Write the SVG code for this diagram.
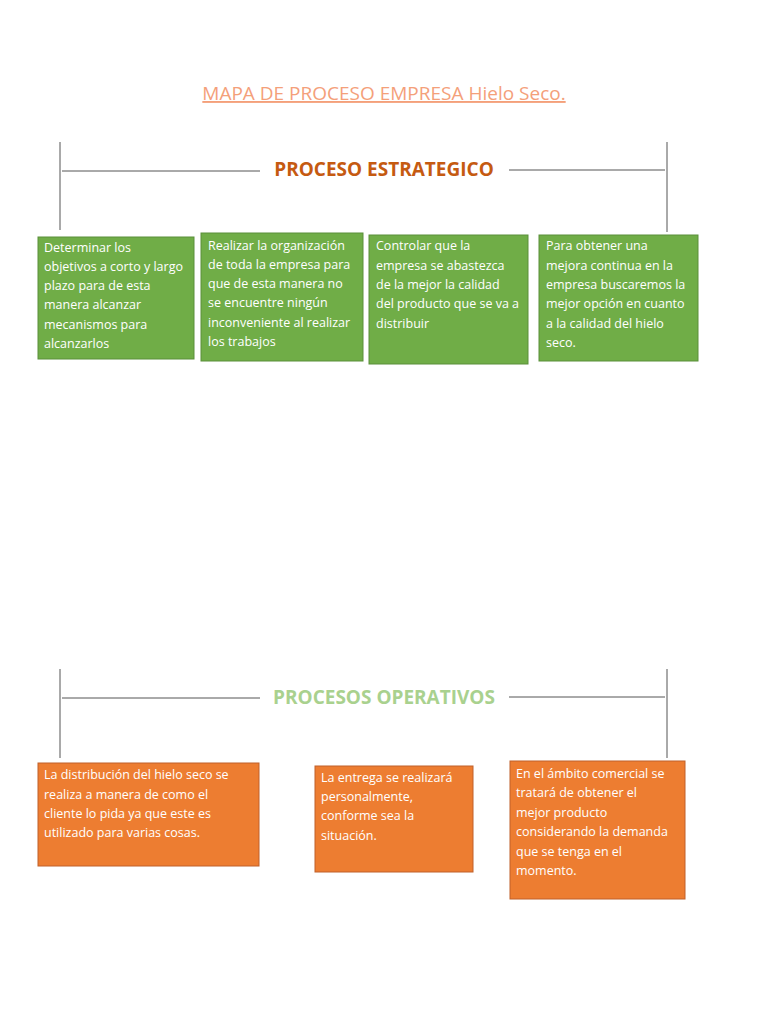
<svg xmlns="http://www.w3.org/2000/svg" width="768" height="1024" viewBox="0 0 768 1024">
<style>
.t{font-family:"Open Sans","Noto Sans",sans-serif;font-size:12.5px;fill:#fff}
.g{fill:#70ad47;stroke:#5a8f3a;stroke-width:1}
.o{fill:#ed7d31;stroke:#c0602a;stroke-width:1}
.l{stroke:#555;stroke-width:1;fill:none}
.h{font-family:"Open Sans","Noto Sans",sans-serif;font-size:19px;font-weight:bold;text-anchor:middle}
</style>
<rect width="768" height="1024" fill="#fff"/>
<text x="384" y="100" font-family="Open Sans,Noto Sans,sans-serif" font-size="19" fill="#f4a07a" text-anchor="middle" text-decoration="underline">MAPA DE PROCESO EMPRESA Hielo Seco.</text>
<g id="connectors">
<path class="l" d="M60 142V230M62 171H260M509 170H665M667 142V232"/>
<path class="l" d="M60 669V758M62 698H260M509 697H665M667 669V758"/>
</g>
<g id="h1"><text class="h" x="384" y="176" fill="#c55a11">PROCESO ESTRATEGICO</text></g>
<g id="h2"><text class="h" x="384" y="704" fill="#a9d18e">PROCESOS OPERATIVOS</text></g>
<g id="n1"><rect class="g" x="38" y="237" width="156" height="122"/>
<text class="t"><tspan x="44" y="252">Determinar los</tspan><tspan x="44" y="271">objetivos a corto y largo</tspan><tspan x="44" y="290">plazo para de esta</tspan><tspan x="44" y="309">manera alcanzar</tspan><tspan x="44" y="329">mecanismos para</tspan><tspan x="44" y="348">alcanzarlos</tspan></text></g>
<g id="n2"><rect class="g" x="201" y="233" width="162" height="128"/>
<text class="t"><tspan x="208" y="250">Realizar la organización</tspan><tspan x="208" y="269">de toda la empresa para</tspan><tspan x="208" y="288">que de esta manera no</tspan><tspan x="208" y="307">se encuentre ningún</tspan><tspan x="208" y="327">inconveniente al realizar</tspan><tspan x="208" y="346">los trabajos</tspan></text></g>
<g id="n3"><rect class="g" x="369" y="235" width="159" height="129"/>
<text class="t"><tspan x="376" y="250">Controlar que la</tspan><tspan x="376" y="270">empresa se abastezca</tspan><tspan x="376" y="289">de la mejor la calidad</tspan><tspan x="376" y="308">del producto que se va a</tspan><tspan x="376" y="328">distribuir</tspan></text></g>
<g id="n4"><rect class="g" x="539" y="235" width="159" height="126"/>
<text class="t"><tspan x="546" y="250">Para obtener una</tspan><tspan x="546" y="270">mejora continua en la</tspan><tspan x="546" y="289">empresa buscaremos la</tspan><tspan x="546" y="308">mejor opción en cuanto</tspan><tspan x="546" y="328">a la calidad del hielo</tspan><tspan x="546" y="347">seco.</tspan></text></g>
<g id="n5"><rect class="o" x="38" y="763" width="221" height="103"/>
<text class="t"><tspan x="44" y="779">La distribución del hielo seco se</tspan><tspan x="44" y="799">realiza a manera de como el</tspan><tspan x="44" y="818">cliente lo pida ya que este es</tspan><tspan x="44" y="837">utilizado para varias cosas.</tspan></text></g>
<g id="n6"><rect class="o" x="315" y="766" width="158" height="106"/>
<text class="t"><tspan x="321" y="782">La entrega se realizará</tspan><tspan x="321" y="801">personalmente,</tspan><tspan x="321" y="820">conforme sea la</tspan><tspan x="321" y="840">situación.</tspan></text></g>
<g id="n7"><rect class="o" x="510" y="761" width="175" height="138"/>
<text class="t"><tspan x="516" y="778">En el ámbito comercial se</tspan><tspan x="516" y="797">tratará de obtener el</tspan><tspan x="516" y="817">mejor producto</tspan><tspan x="516" y="836">considerando la demanda</tspan><tspan x="516" y="856">que se tenga en el</tspan><tspan x="516" y="875">momento.</tspan></text></g>
</svg>
